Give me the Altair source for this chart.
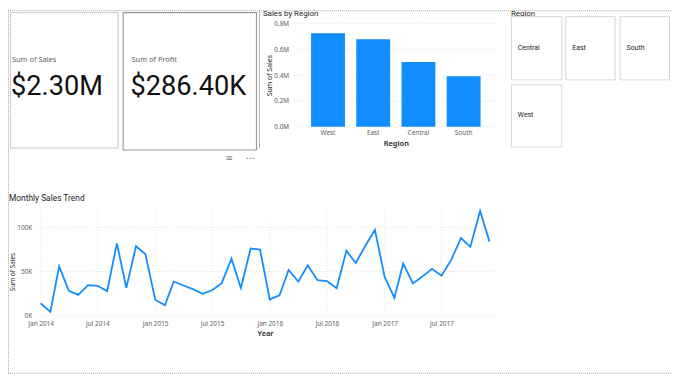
import altair as alt
import pandas as pd

# ---------------- data ----------------
kpi_labels = ["Sum of Sales", "Sum of Profit"]
kpi_values = ["$2.30M", "$286.40K"]

regions = ["West", "East", "Central", "South"]
region_sales = [725457, 678781, 501240, 391722]
bar_ticks = [0, 200000, 400000, 600000, 800000]

slicer_title = "Region"
slicer_items = ["Central", "East", "South", "West"]

month_start = "2014-01-01"
monthly_sales_k = [14.2, 4.5, 55.7, 28.3, 23.6, 34.6, 33.9, 27.9, 81.8, 31.5, 78.6, 69.5,
                   18.2, 12.0, 38.7, 34.2, 30.1, 24.8, 28.8, 36.9, 64.6, 31.4, 76.0, 74.9,
                   18.5, 23.0, 51.7, 38.8, 57.0, 40.3, 39.3, 31.1, 73.4, 59.7, 79.4, 97.0,
                   44.0, 20.3, 58.9, 36.5, 44.3, 53.0, 45.3, 63.1, 87.9, 77.8, 118.4, 83.8]
line_ticks = [0, 50, 100]
date_ticks = ["2014-01", "2014-07", "2015-01", "2015-07",
              "2016-01", "2016-07", "2017-01", "2017-07"]

# ---------------- layout helpers ----------------
W, H = 672, 368
OX = OY = 8
BLUE = "#118DFF"
TXT = "#252423"
GRAY = "#605E5C"
F_TITLE = "Roboto"
F_AX = "Noto Sans"


def px(v):
    return v - OX


def py(v):
    return v - OY


one = pd.DataFrame({"k": [0]})


def rect(x0, y0, x1, y1, stroke, sw=1.0):
    return alt.Chart(one).mark_rect(fill="white", stroke=stroke, strokeWidth=sw).encode(
        x=alt.value(x0), x2=alt.value(x1), y=alt.value(y0), y2=alt.value(y1))


def hrule(x0, x1, y, color, dash=None, sw=1.0):
    kw = dict(color=color, strokeWidth=sw)
    if dash:
        kw["strokeDash"] = dash
    return alt.Chart(one).mark_rule(**kw).encode(x=alt.value(x0), x2=alt.value(x1), y=alt.value(y))


def vrule(x, y0, y1, color, dash=None, sw=1.0):
    kw = dict(color=color, strokeWidth=sw)
    if dash:
        kw["strokeDash"] = dash
    return alt.Chart(one).mark_rule(**kw).encode(x=alt.value(x), y=alt.value(y0), y2=alt.value(y1))


def label(text, x, y, size, color, font, weight="normal", align="left", baseline="middle"):
    return alt.Chart(pd.DataFrame({"t": [text]})).mark_text(
        align=align, baseline=baseline, fontSize=size, font=font, color=color, fontWeight=weight
    ).encode(x=alt.value(x), y=alt.value(y), text="t:N")


layers = []

# canvas dotted border
layers += [
    hrule(0, W, 0.5, "#A6A6A6", [1, 1]),
    vrule(0.5, 0, H, "#A6A6A6", [1, 1]),
    hrule(0, W, H - 0.5, "#A6A6A6", [1, 1]),
]

# KPI cards
layers += [
    rect(2.5, 2.5, px(119.5), py(147.5), "#C8C6C4"),
    rect(px(124.5), 2.5, px(259.5), py(149.5), "#9A9A9A", 1.2),
    vrule(px(262.5), 0, py(148), "#B3B3B3"),
    label(kpi_labels[0], px(12), py(58), 7.5, GRAY, F_AX),
    label(kpi_values[0], px(11), py(94), 27.5, "#111111", F_TITLE, baseline="alphabetic"),
    label(kpi_labels[1], px(133), py(58), 7.5, GRAY, F_AX),
    label(kpi_values[1], px(132), py(94), 27.5, "#111111", F_TITLE, baseline="alphabetic"),
    label("\u2261", px(232), py(158), 9, "#8A8886", "DejaVu Sans", align="center"),
    label("\u22ef", px(253), py(158), 9, "#605E5C", "DejaVu Sans", align="center"),
]

# ---------------- bar chart ----------------
bar_df = pd.DataFrame({"Region": regions, "Sales": region_sales})
bar_y_scale = alt.Scale(domain=[0, 800000], range=[py(126), py(21.5)], nice=False, zero=True)
bar_y_axis = alt.Axis(orient="left", offset=-px(295), title="Sum of Sales",
                      values=bar_ticks,
                      labelExpr="format(datum.value/1000000, '.1f') + 'M'",
                      domain=False, ticks=False, grid=False, labelPadding=3,
                      titlePadding=1.5, minExtent=0, maxExtent=200,
                      labelFont=F_AX, labelFontSize=6.5, labelColor=GRAY,
                      titleFont=F_AX, titleFontSize=7, titleColor=TXT,
                      titleFontWeight="normal")

bar_grid = alt.Chart(pd.DataFrame({"v": bar_ticks})).mark_rule(
    color="#E3E3E3", strokeDash=[1, 2], strokeWidth=1
).encode(y=alt.Y("v:Q", scale=bar_y_scale, axis=bar_y_axis),
         x=alt.value(px(297)), x2=alt.value(px(505)))

bars = alt.Chart(bar_df).mark_bar(color=BLUE).encode(
    x=alt.X("Region:N", sort=regions,
            scale=alt.Scale(range=[px(309), px(492)], paddingInner=0.25, paddingOuter=0.125),
            axis=alt.Axis(orient="bottom", offset=py(126) - H, title="Region",
                          domain=False, ticks=False, grid=False, labelAngle=0,
                          labelPadding=3, titlePadding=3,
                          labelFont=F_AX, labelFontSize=6.5, labelColor=GRAY,
                          titleFont=F_AX, titleFontSize=7.5, titleColor=TXT,
                          titleFontWeight=600)),
    y=alt.Y("Sales:Q", scale=bar_y_scale, axis=bar_y_axis),
)
layers.append(alt.layer(bar_grid, bars))
layers.append(label("Sales by Region", px(266), 0, 8, TXT, F_TITLE, baseline="top"))

# ---------------- slicer ----------------
layers.append(label(slicer_title, px(517), 0, 8, TXT, F_TITLE, baseline="top"))
slicer_boxes = [(517, 14, 568, 78), (572, 14, 622, 78), (627, 14, 677, 78), (517, 83, 568, 146)]
for name, (x0, y0, x1, y1) in zip(slicer_items, slicer_boxes):
    layers.append(rect(px(x0) + 0.5, py(y0) + 0.5, px(x1) + 0.5, py(y1) + 0.5, "#D6D6D6"))
    layers.append(label(name, px(x0 + 7), py((y0 + y1) / 2), 7, TXT, F_TITLE))

# ---------------- line chart ----------------
months = pd.date_range(month_start, periods=len(monthly_sales_k), freq="MS")
line_df = pd.DataFrame({"Month": months, "Sales": monthly_sales_k})
tick_dates = [alt.DateTime(year=int(s[:4]), month=int(s[5:]), date=1) for s in date_ticks]

line_x_scale = alt.Scale(domain=[alt.DateTime(year=2014, month=1, date=1),
                                 alt.DateTime(year=2017, month=12, date=1)],
                         range=[px(41), px(495.3)], nice=False)
line_y_scale = alt.Scale(domain=[0, 100], range=[py(317.3), py(227.7)], nice=False, zero=True)

line_x_axis = alt.Axis(orient="bottom", offset=py(317.3) - H, title="Year",
                       values=tick_dates, format="%b %Y", formatType="time",
                       domain=False, ticks=False, grid=False,
                       labelFlush=False, labelOverlap=False,
                       labelPadding=5, titlePadding=2,
                       labelFont=F_AX, labelFontSize=6.5, labelColor=GRAY,
                       titleFont=F_AX, titleFontSize=7.5, titleColor=TXT,
                       titleFontWeight=600)
line_y_axis = alt.Axis(orient="left", offset=-px(35.5), title="Sum of Sales",
                       values=line_ticks, labelExpr="datum.value + 'K'",
                       domain=False, ticks=False, grid=False, labelPadding=3.5,
                       titlePadding=1, minExtent=0, maxExtent=200,
                       labelFont=F_AX, labelFontSize=6.5, labelColor=GRAY,
                       titleFont=F_AX, titleFontSize=6.5, titleColor=TXT,
                       titleFontWeight="normal")

vgrid = alt.Chart(pd.DataFrame({"Month": pd.to_datetime([s + "-01" for s in date_ticks])})).mark_rule(
    color="#E6E6E6", strokeDash=[1, 2], strokeWidth=1
).encode(x=alt.X("Month:T", scale=line_x_scale, axis=line_x_axis),
         y=alt.value(py(212)), y2=alt.value(py(317.3)))

hgrid = alt.Chart(pd.DataFrame({"Sales": line_ticks})).mark_rule(
    color="#E3E3E3", strokeDash=[1, 2], strokeWidth=1
).encode(y=alt.Y("Sales:Q", scale=line_y_scale, axis=line_y_axis),
         x=alt.value(px(37)), x2=alt.value(px(502)))

line = alt.Chart(line_df).mark_line(color=BLUE, strokeWidth=1.8).encode(
    x=alt.X("Month:T", scale=line_x_scale, axis=line_x_axis),
    y=alt.Y("Sales:Q", scale=line_y_scale, axis=line_y_axis),
)
layers.append(alt.layer(vgrid, hgrid, line))
layers.append(label("Monthly Sales Trend", 1, py(198), 8.5, TXT, F_TITLE))

chart = alt.layer(*layers).resolve_scale(
    x="independent", y="independent"
).resolve_axis(
    x="independent", y="independent"
).properties(
    width=W, height=H, padding=0,
    autosize=alt.AutoSizeParams(type="none"),
    background="white",
).configure_view(stroke=None, strokeWidth=0)

chart.save("out.html", embed_options={"renderer": "svg", "actions": False})
